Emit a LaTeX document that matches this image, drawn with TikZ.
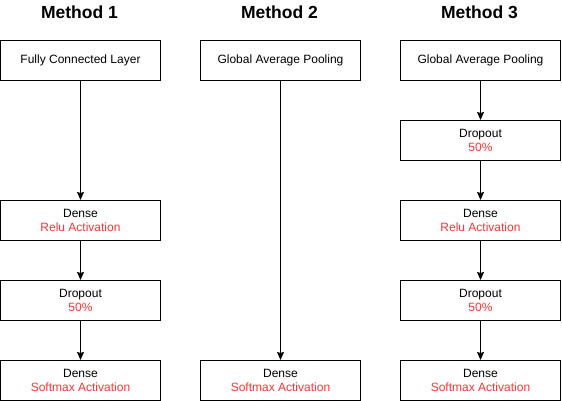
\documentclass[tikz,border=0pt]{standalone}
\usepackage{fontspec}
\setmainfont{Liberation Sans}
\usetikzlibrary{arrows.meta}
\definecolor{redtext}{HTML}{FF3333}

\begin{document}
\begin{tikzpicture}[x=1pt,y=-1pt,
  box/.style={draw,line width=1pt,minimum width=160pt,minimum height=40pt,inner sep=0pt,align=center,font=\fontsize{12}{14}\selectfont},
  title/.style={font=\fontsize{17.5}{20}\selectfont\bfseries},
  link/.style={-{Stealth[length=8pt,width=7pt,inset=1pt]},line width=1pt}]

\useasboundingbox (0,0) rectangle (562,401);

\node[title] (T1) at (79.5,12) {Method 1};
\node[title] (T2) at (279.5,12) {Method 2};% заголовки
\node[title] (T3) at (479.5,12) {Method 3};

% Method 1
\node[box] (A1) at (80.5,60.5) {Fully Connected Layer};
\node[box] (A2) at (80.5,220.5) {Dense\\\textcolor{redtext}{Relu Activation}};
\node[box] (A3) at (80.5,300.5) {Dropout\\\textcolor{redtext}{50\%}};
\node[box] (A4) at (80.5,380.5) {Dense\\\textcolor{redtext}{Softmax Activation}};

% Method 2
\node[box] (B1) at (280.5,60.5) {Global Average Pooling};
\node[box] (B2) at (280.5,380.5) {Dense\\\textcolor{redtext}{Softmax Activation}};

% Method 3
\node[box] (C1) at (480.5,60.5) {Global Average Pooling};
\node[box] (C2) at (480.5,140.5) {Dropout\\\textcolor{redtext}{50\%}};
\node[box] (C3) at (480.5,220.5) {Dense\\\textcolor{redtext}{Relu Activation}};
\node[box] (C4) at (480.5,300.5) {Dropout\\\textcolor{redtext}{50\%}};
\node[box] (C5) at (480.5,380.5) {Dense\\\textcolor{redtext}{Softmax Activation}};

\draw[link] (A1) -- (A2);
\draw[link] (A2) -- (A3);
\draw[link] (A3) -- (A4);

\draw[link] (B1) -- (B2);

\draw[link] (C1) -- (C2);
\draw[link] (C2) -- (C3);
\draw[link] (C3) -- (C4);
\draw[link] (C4) -- (C5);

\end{tikzpicture}
\end{document}
